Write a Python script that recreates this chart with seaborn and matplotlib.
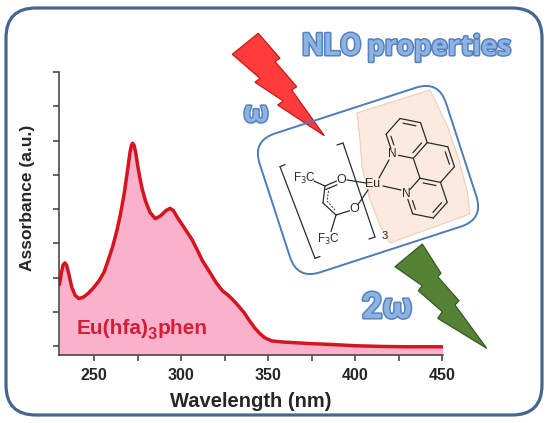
import numpy as np
import matplotlib
matplotlib.use("Agg")
import matplotlib.pyplot as plt
import matplotlib.patches as mpatches
import matplotlib.patheffects as pe
from matplotlib.transforms import Affine2D
import seaborn as sns

# absorption spectrum (y in tick units, arbitrary)
wavelength = [230.0, 231.0, 232.0, 233.0, 234.0, 235.5, 237.0, 239.0, 241.0, 243.5,
              246.5, 249.5, 252.5, 255.5, 258.0, 260.5, 263.0, 265.0, 267.0, 269.0,
              270.5, 271.3, 272.0, 272.8, 273.8, 274.8, 276.0, 277.5, 279.5, 282.0,
              285.0, 288.0, 291.0, 293.5, 295.5, 297.5, 300.0, 303.0, 306.0, 309.0,
              312.0, 316.0, 320.0, 323.5, 327.0, 330.0, 333.0, 336.0, 339.0, 342.0,
              345.0, 348.0, 352.0, 358.0, 365.0, 375.0, 385.0, 400.0, 415.0, 430.0,
              450.0]
absorbance = [1.80, 2.12, 2.36, 2.43, 2.37, 2.07, 1.72, 1.48, 1.39, 1.42,
              1.54, 1.70, 1.89, 2.15, 2.51, 2.90, 3.38, 3.85, 4.40, 5.10,
              5.66, 5.86, 5.92, 5.86, 5.64, 5.30, 4.95, 4.58, 4.22, 3.90,
              3.72, 3.80, 3.95, 4.02, 3.95, 3.77, 3.58, 3.35, 3.12, 2.82,
              2.50, 2.18, 1.85, 1.62, 1.48, 1.33, 1.16, 0.98, 0.75, 0.54,
              0.37, 0.24, 0.15, 0.12, 0.10, 0.07, 0.05, 0.01, -0.01, -0.02,
              -0.02]
x_ticks = [250, 300, 350, 400, 450]
x_minor = [275, 325, 375, 425]
y_ticks = [0, 1, 2, 3, 4, 5, 6, 7, 8]

red = "#d4141e"
pink = "#fbb0cc"
blue_fill = "#8db3e2"
blue_edge = "#5681c0"

sns.set_theme(style="ticks")
plt.rcParams["font.family"] = ["Liberation Sans", "DejaVu Sans"]

fig = plt.figure(figsize=(5.5, 4.23), dpi=100)
fig.patch.set_facecolor("white")

# --- spectrum axes ---
ax = fig.add_axes([59 / 550, 1 - 355 / 423, (443 - 59) / 550, (355 - 72) / 423])
ax.set_facecolor("white")
ax.fill_between(wavelength, absorbance, -0.26, color=pink, lw=0)
sns.lineplot(x=wavelength, y=absorbance, ax=ax, color=red, lw=2.5,
             solid_joinstyle="round", solid_capstyle="round")
ax.set_xlim(229.7, 450.3)
ax.set_ylim(-0.26, 8.0)
ax.set_xticks(x_ticks)
ax.set_xticks(x_minor, minor=True)
ax.set_yticks(y_ticks)
ax.set_yticklabels([])
sns.despine(ax=ax)
for s in ["left", "bottom"]:
    ax.spines[s].set_color("#3c3c3c")
    ax.spines[s].set_linewidth(1.1)
ax.tick_params(axis="both", which="both", direction="out", length=4, width=1.1,
               color="#3c3c3c")
ax.tick_params(axis="x", labelsize=11.5, pad=5)
for lbl in ax.get_xticklabels():
    lbl.set_fontweight("bold")
ax.set_xlabel("Wavelength (nm)", fontsize=14.5, fontweight="bold", va="center")
ax.xaxis.set_label_coords(0.5, -0.166)
ax.set_ylabel("Assorbance (a.u.)", fontsize=12.5, fontweight="bold", va="center")
ax.yaxis.set_label_coords(-0.082, 0.556)

t1 = ax.text(0.047, 0.075, "Eu(hfa)", transform=ax.transAxes, color="#d21f37",
             fontsize=15, fontweight="bold", va="baseline", ha="left")
t2 = ax.annotate("3", xy=(1, 0), xycoords=t1, xytext=(-0.8, -3.0),
                 textcoords="offset points", color="#d21f37", fontsize=12,
                 fontweight="bold", va="bottom", ha="left")
ax.annotate("phen", xy=(1, 0), xycoords=t2, xytext=(0.0, 3.0),
            textcoords="offset points", color="#d21f37", fontsize=15,
            fontweight="bold", va="bottom", ha="left")

# --- decoration layer in pixel coordinates ---
deco = fig.add_axes([0, 0, 1, 1], zorder=5)
deco.set_xlim(0, 550)
deco.set_ylim(423, 0)
deco.axis("off")
deco.patch.set_alpha(0)

frame = mpatches.FancyBboxPatch((6, 8), 536, 407,
                                boxstyle="round,pad=0,rounding_size=30",
                                fc="none", ec="#45678f", lw=2.3)
deco.add_patch(frame)

# molecule card (rotated rounded box)
rot = Affine2D().rotate_deg_around(368, 180, -18) + deco.transData
card_fill = mpatches.FancyBboxPatch((270, 107), 196, 146,
                                    boxstyle="round,pad=0,rounding_size=24",
                                    fc="white", ec="none", transform=rot)
deco.add_patch(card_fill)

band = mpatches.Polygon([(357, 113), (360, 140), (362, 167), (370, 200), (380, 225),
                         (390, 243), (470, 214), (467, 190), (459, 160), (447, 125),
                         (430, 90)],
                        closed=True, fc="#fbeadf", ec="#ebd0b8", lw=0.8)
deco.add_patch(band)

ink = "#2b2b2b"
mol_lw = 0.9


def bond(p, q, **kw):
    deco.plot([p[0], q[0]], [p[1], q[1]], color=ink, lw=mol_lw,
              solid_capstyle="round", **kw)


# brackets
bond((285, 164.5), (280, 166.7))
bond((280, 166.7), (315, 258.3))
bond((315, 258.3), (320, 256.5))
bond((337, 145), (343, 143))
bond((343, 143), (375, 237))
bond((375, 237), (369, 239))
deco.text(382, 236, "3", fontsize=8, color=ink, va="center", ha="left")

# hfa ligand
bond((314, 181), (325, 186))
bond((325, 186), (336.5, 181))
bond((326, 189.5), (337, 184.8))
bond((325, 186), (323, 203))
bond((323, 203), (336, 215))
bond((336, 215), (349.5, 210.8))
bond((336, 215), (331, 231.5))
deco.plot([328.5, 327, 335], [191, 201, 210], color=ink, lw=0.7, ls=(0, (2, 1.5)))
bond((347, 180), (366, 183))
bond((358, 204.5), (368, 190))
bond((379, 178), (389, 160))
bond((383, 186), (401, 190))
deco.text(304, 178, "F$_3$C", fontsize=8.5, color=ink, ha="center", va="center")
deco.text(328, 239, "F$_3$C", fontsize=8.5, color=ink, ha="center", va="center")
deco.text(341.5, 180, "O", fontsize=9, color=ink, ha="center", va="center")
deco.text(354.5, 209.5, "O", fontsize=9, color=ink, ha="center", va="center")
deco.text(373, 184, "Eu", fontsize=9, color=ink, ha="center", va="center")

# phenanthroline built on a hexagon grid
E = np.array([413.3, 158.3])
u = np.array([0.317, 0.948])
v = np.array([0.948, -0.317])
b = 21.0
r3 = np.sqrt(3) / 2


def at(lx, ly):
    return E + b * (lx * v + ly * u)


ringA = [(0, 0), (r3, -0.5), (r3, -1.5), (0, -2), (-r3, -1.5), (-r3, -0.5)]
ringB = [(0, 0), (0, 1), (r3, 1.5), (2 * r3, 1), (2 * r3, 0), (r3, -0.5)]
ringC = [(0, 1), (r3, 1.5), (r3, 2.5), (0, 3), (-r3, 2.5), (-r3, 1.5)]
n_sites = [(-r3, -0.5), (-r3, 1.5)]
drawn = set()
for ring in [ringA, ringB, ringC]:
    for i in range(6):
        a_, c_ = ring[i], ring[(i + 1) % 6]
        key = tuple(sorted([a_, c_]))
        if key in drawn:
            continue
        drawn.add(key)
        p, q = at(*a_), at(*c_)
        if a_ in n_sites:
            p = p + (q - p) * 0.28
        if c_ in n_sites:
            q = q + (p - q) * 0.28
        bond(p, q)

# inner lines for the double bonds
doubles = [(ringA, 4, 5), (ringA, 2, 3), (ringA, 0, 1), (ringB, 3, 4),
           (ringC, 4, 5), (ringC, 2, 3), (ringC, 0, 1)]
for ring, i, j in doubles:
    cen = np.mean([at(*pt) for pt in ring], axis=0)
    p, q = at(*ring[i]), at(*ring[j])
    p2 = p + (cen - p) * 0.22
    q2 = q + (cen - q) * 0.22
    if ring[i] in n_sites:
        p2 = p2 + (q2 - p2) * 0.3
    if ring[j] in n_sites:
        q2 = q2 + (p2 - q2) * 0.3
    m = (p2 + q2) / 2
    p2 = m + (p2 - m) * 0.8
    q2 = m + (q2 - m) * 0.8
    bond(p2, q2)
for site in n_sites:
    pos = at(*site)
    deco.text(pos[0], pos[1], "N", fontsize=8.5, color=ink, ha="center", va="center")

# lightning bolts
red_bolt = [(258.3, 33.3), (280, 58.3), (275, 61.5), (296.7, 86.7), (291.7, 90),
            (324.3, 135.7), (277.7, 105), (283.3, 101), (255, 82.3), (260, 78.3),
            (232.3, 54.3)]
deco.add_patch(mpatches.Polygon(red_bolt, closed=True, fc="#ff3b3b", ec="#c41a1a",
                                lw=0.9, joinstyle="miter"))
green_bolt = [(422.3, 244), (441, 273.3), (437.7, 276.7), (459, 300.7), (455, 305),
              (486.7, 348.3), (437.7, 318.3), (442.3, 311.7), (418.3, 290.7),
              (422.3, 285.7), (395, 266.7)]
deco.add_patch(mpatches.Polygon(green_bolt, closed=True, fc="#568235", ec="#385a24",
                                lw=0.9, joinstyle="miter"))

card_edge = mpatches.FancyBboxPatch((270, 107), 196, 146,
                                    boxstyle="round,pad=0,rounding_size=24",
                                    fc="none", ec="#4f7bb9", lw=1.4, transform=rot)
deco.add_patch(card_edge)

# blue outlined labels
outline = [pe.Stroke(linewidth=2.2, foreground=blue_edge), pe.Normal()]
deco.text(302, 55, "NLO", fontsize=22, fontweight="bold", color=blue_fill,
          family=["Roboto", "DejaVu Sans"], ha="left", va="baseline",
          path_effects=outline)
deco.text(367, 55, "properties", fontsize=20, fontweight="bold", color=blue_fill,
          family=["Open Sans", "DejaVu Sans"], ha="left", va="baseline",
          path_effects=outline)
deco.text(256, 113, "ω", fontsize=22, fontweight="bold", color=blue_fill,
          family=["Roboto", "DejaVu Sans"], ha="center", va="center",
          path_effects=outline)
deco.text(387, 308, "2ω", fontsize=26, fontweight="bold", color=blue_fill,
          family=["Roboto", "DejaVu Sans"], ha="center", va="center",
          path_effects=outline)

fig.savefig("out.png", dpi=100, facecolor="white")
